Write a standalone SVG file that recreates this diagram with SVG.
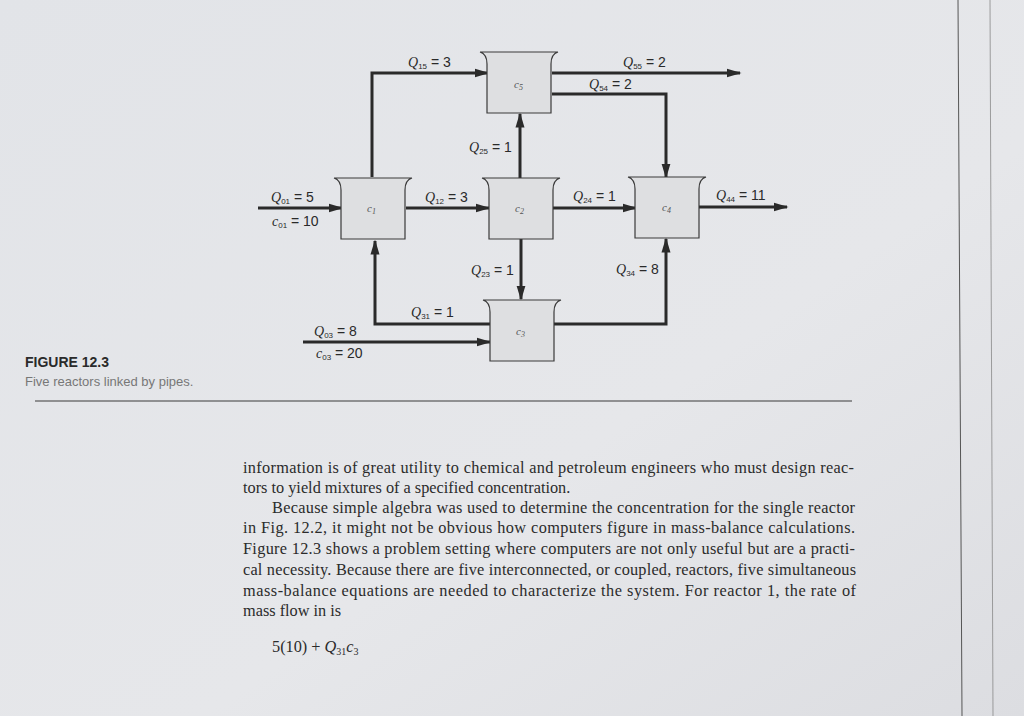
<svg xmlns="http://www.w3.org/2000/svg" width="1024" height="716" viewBox="0 0 1024 716">
<defs>
<linearGradient id="bg" x1="0" y1="0" x2="1" y2="1"><stop offset="0" stop-color="#e2e4e8"/><stop offset="0.6" stop-color="#e6e7ea"/><stop offset="1" stop-color="#dcdde1"/></linearGradient>
<marker id="ar" viewBox="0 0 10 10" refX="9" refY="5" markerWidth="5" markerHeight="5" orient="auto" markerUnits="strokeWidth"><path d="M0,2 L10,5 L0,8 Z" fill="#2a2a2a"/></marker>
<path id="beaker" d="M-39,0 Q-32,2 -32,12 L-32,61 L32,61 L32,12 Q32,2 39,0 Z"/>
</defs>
<style>
.pipe{fill:none;stroke:#2a2a2a;stroke-width:3;marker-end:url(#ar)}
.bk{fill:#dedfe1;stroke:#3a3a3a;stroke-width:1.2}
.lb{font-family:"Liberation Sans",Arial,sans-serif;font-size:14px;fill:#2a2a2a}
.q{font-family:"Liberation Serif",serif;font-style:italic}
.c{font-family:"Liberation Serif",serif;font-style:italic;font-size:11px;fill:#555}
.sb{font-size:8px}
.body{font-family:"Liberation Serif","Times New Roman",serif;font-size:16.3px;fill:#2b2b2b}
</style>
<rect width="1024" height="716" fill="url(#bg)"/>
<line x1="958" y1="0" x2="962" y2="716" stroke="#555" stroke-width="1"/>
<line x1="990" y1="0" x2="993" y2="716" stroke="#888" stroke-width="0.8"/>
<g id="connectors">
<path class="pipe" d="M258,208 L342,208"/>
<path class="pipe" d="M372,177 L372,73 L488,73"/>
<path class="pipe" d="M552,73 L740,73"/>
<path class="pipe" d="M552,94 L666,94 L666,177"/>
<path class="pipe" d="M520,178 L520,114"/>
<path class="pipe" d="M406,208 L489,208"/>
<path class="pipe" d="M553,208 L636,208"/>
<path class="pipe" d="M699,207 L787,207"/>
<path class="pipe" d="M521,239 L521,299"/>
<path class="pipe" d="M554,324 L666,324 L666,239"/>
<path class="pipe" d="M490,324 L375,324 L375,241"/>
<path class="pipe" d="M303,342 L490,342"/>
</g>
<g id="c5"><use href="#beaker" class="bk" transform="translate(519,52)"/><text class="c" x="514" y="88">c<tspan class="sb" dy="2">5</tspan></text></g>
<g id="c1"><use href="#beaker" class="bk" transform="translate(373,178)"/><text class="c" x="367" y="212">c<tspan class="sb" dy="2">1</tspan></text></g>
<g id="c2"><use href="#beaker" class="bk" transform="translate(521,178)"/><text class="c" x="515" y="212">c<tspan class="sb" dy="2">2</tspan></text></g>
<g id="c4"><use href="#beaker" class="bk" transform="translate(667,177)"/><text class="c" x="662" y="211">c<tspan class="sb" dy="2">4</tspan></text></g>
<g id="c3"><use href="#beaker" class="bk" transform="translate(522,300)"/><text class="c" x="516" y="335">c<tspan class="sb" dy="2">3</tspan></text></g>
<g id="labels" class="lb">
<text x="271" y="202"><tspan class="q">Q</tspan><tspan class="sb" dy="2">01</tspan><tspan dy="-2"> = 5</tspan></text>
<text x="272" y="226"><tspan class="q">c</tspan><tspan class="sb" dy="2">01</tspan><tspan dy="-2"> = 10</tspan></text>
<text x="408" y="67"><tspan class="q">Q</tspan><tspan class="sb" dy="2">15</tspan><tspan dy="-2"> = 3</tspan></text>
<text x="623" y="67"><tspan class="q">Q</tspan><tspan class="sb" dy="2">55</tspan><tspan dy="-2"> = 2</tspan></text>
<text x="589" y="89"><tspan class="q">Q</tspan><tspan class="sb" dy="2">54</tspan><tspan dy="-2"> = 2</tspan></text>
<text x="469" y="152"><tspan class="q">Q</tspan><tspan class="sb" dy="2">25</tspan><tspan dy="-2"> = 1</tspan></text>
<text x="425" y="202"><tspan class="q">Q</tspan><tspan class="sb" dy="2">12</tspan><tspan dy="-2"> = 3</tspan></text>
<text x="573" y="201"><tspan class="q">Q</tspan><tspan class="sb" dy="2">24</tspan><tspan dy="-2"> = 1</tspan></text>
<text x="716" y="200"><tspan class="q">Q</tspan><tspan class="sb" dy="2">44</tspan><tspan dy="-2"> = 11</tspan></text>
<text x="471" y="275"><tspan class="q">Q</tspan><tspan class="sb" dy="2">23</tspan><tspan dy="-2"> = 1</tspan></text>
<text x="616" y="274"><tspan class="q">Q</tspan><tspan class="sb" dy="2">34</tspan><tspan dy="-2"> = 8</tspan></text>
<text x="411" y="317"><tspan class="q">Q</tspan><tspan class="sb" dy="2">31</tspan><tspan dy="-2"> = 1</tspan></text>
<text x="314" y="336"><tspan class="q">Q</tspan><tspan class="sb" dy="2">03</tspan><tspan dy="-2"> = 8</tspan></text>
<text x="316" y="358"><tspan class="q">c</tspan><tspan class="sb" dy="2">03</tspan><tspan dy="-2"> = 20</tspan></text>
</g>
<text x="25" y="367" font-family="Liberation Sans,Arial,sans-serif" font-size="14" font-weight="bold" fill="#2a2a2a">FIGURE 12.3</text>
<text x="25" y="386" font-family="Liberation Sans,Arial,sans-serif" font-size="13" fill="#777">Five reactors linked by pipes.</text>
<line x1="35" y1="401" x2="852" y2="401" stroke="#3a3a3a" stroke-width="1.2"/>
<g class="body">
<text x="243" y="473" textLength="611" lengthAdjust="spacing">information is of great utility to chemical and petroleum engineers who must design reac-</text>
<text x="243" y="493">tors to yield mixtures of a specified concentration.</text>
<text x="272" y="513" textLength="583" lengthAdjust="spacing">Because simple algebra was used to determine the concentration for the single reactor</text>
<text x="243" y="533" textLength="612" lengthAdjust="spacing">in Fig. 12.2, it might not be obvious how computers figure in mass-balance calculations.</text>
<text x="243" y="554" textLength="612" lengthAdjust="spacing">Figure 12.3 shows a problem setting where computers are not only useful but are a practi-</text>
<text x="243" y="575" textLength="613" lengthAdjust="spacing">cal necessity. Because there are five interconnected, or coupled, reactors, five simultaneous</text>
<text x="243" y="596" textLength="613" lengthAdjust="spacing">mass-balance equations are needed to characterize the system. For reactor 1, the rate of</text>
<text x="243" y="616">mass flow in is</text>
<text x="272" y="652">5(10) + <tspan font-style="italic">Q</tspan><tspan font-size="10" dy="3">31</tspan><tspan font-style="italic" dy="-3">c</tspan><tspan font-size="10" dy="3">3</tspan></text>
</g>
</svg>
